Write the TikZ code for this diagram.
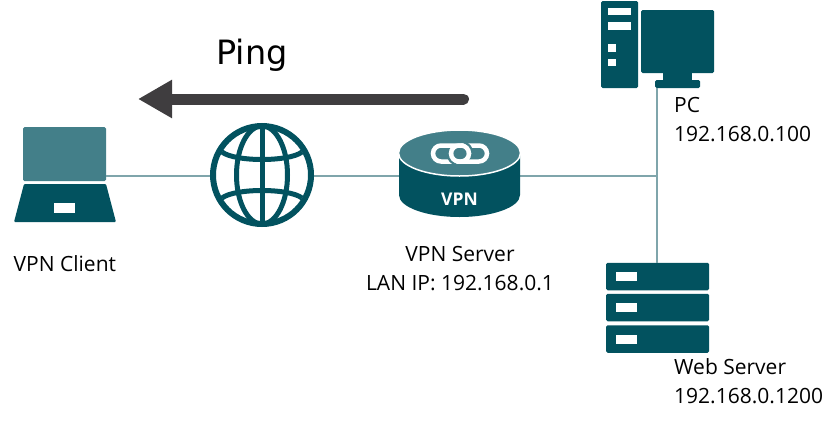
\documentclass[tikz,border=0pt]{standalone}
\usepackage{fontspec}
\setmainfont{Open Sans}
\newfontfamily\pingfont{DejaVu Sans}
\usetikzlibrary{arrows.meta}
\definecolor{tealdark}{HTML}{02525F}
\definecolor{teallight}{HTML}{437F89}
\definecolor{tealline}{HTML}{7FA5AB}
\definecolor{pingcol}{HTML}{3F3D3F}
\tikzset{
  block/.style={fill=tealdark, inner sep=0pt, rounded corners=1.5pt, minimum width=#1},
  hole/.style={fill=white, inner sep=0pt},
  link/.style={draw=tealline, line width=1.6pt},
  ring/.style={white, line width=4.5pt},
  gap/.style={teallight, line width=8.5pt},
  label/.style={inner sep=0pt, font=\fontsize{21}{29}\selectfont, align=left, anchor=base west},
}
\begin{document}
\begin{tikzpicture}[x=1pt,y=-1pt]
\useasboundingbox (0,0) rectangle (837,423);
% laptop
\node[block=83pt, fill=teallight, minimum height=54pt] (screen) at (64.5,154) {};
\fill[tealdark, rounded corners=1pt] (24,184) -- (106,184) -- (116,222) -- (14,222) -- cycle;
\node[hole, minimum width=21pt, minimum height=10pt] at (64.5,208) {};
% pc
\node[block=37pt, minimum height=87pt] (tower) at (619.5,44.5) {};
\foreach \i/\ypos in {1/11.5,2/26} \node[hole, minimum width=23pt, minimum height=7.5pt] (bar\i) at (619.5,\ypos) {};
\foreach \i/\ypos in {1/48,2/62.5} \node[hole, minimum width=8pt, minimum height=7.5pt] (dot\i) at (612,\ypos) {};
\node[block=73pt, minimum height=63pt] (monitor) at (677.5,41.5) {};
\node[fill=tealdark, inner sep=0pt, minimum width=29pt, minimum height=8pt] (neck) at (677.5,76) {};
\node[block=45pt, minimum height=8pt] (stand) at (677.5,84) {};
% web server
\foreach \i/\ypos in {1/276.5,2/307.5,3/339} {
  \node[block=103pt, minimum height=27.5pt] (rack\i) at (657.5,\ypos) {};
  \node[hole, minimum width=21pt, minimum height=9pt] at (626.5,\ypos) {};
}
% connectors
\coordinate (vpn) at (459.5,176);
\coordinate (lan) at (657,176);
\node[circle, minimum size=104pt, inner sep=0pt] (globe) at (262,175) {};
\draw[link] (screen.east |- lan) -- (globe.west |- lan);
\draw[link] (globe.east |- lan) -- (vpn);
\draw[link] (vpn) -- (lan);
\draw[link] (stand.south -| lan) -- (rack1.north -| lan);
% globe
\draw[tealdark, line width=6pt] (globe.center) circle [radius=49];
\draw[tealdark, line width=5pt] (globe.north) -- (globe.south);
\draw[tealdark, line width=5pt] (globe.center) ellipse [x radius=25.5, y radius=49];
\draw[tealdark, line width=5pt] (222,152) .. controls (235,162) and (289,162) .. (302,152);
\draw[tealdark, line width=5pt] (222,198) .. controls (235,188) and (289,188) .. (302,198);
% vpn cylinder
\fill[tealdark] (399,153) -- (399,195) arc [start angle=180, end angle=0, x radius=60.5, y radius=22] -- (520,153) -- cycle;
\fill[teallight, draw=white, line width=1.5pt] (459.5,153) ellipse [x radius=61, y radius=23];
\draw[ring, rounded corners=8pt] (451,145.5) rectangle (487,161.5);
\draw[ring, rounded corners=8pt] (433,145.5) rectangle (469,161.5);
\draw[gap] (451,154) .. controls (451,158) and (454,161) .. (457,161.5);
\draw[ring] (451,153) .. controls (451,158) and (454.5,161.5) .. (459,161.5);
\draw[gap] (469,153) .. controls (469,149) and (466,146) .. (463,145.5);
\draw[ring] (469,154) .. controls (469,149) and (465.5,145.5) .. (461,145.5);
\node[inner sep=0pt, text=white, font=\fontsize{17.5}{17.5}\selectfont\bfseries] (vpntext) at (459.5,199) {VPN};
% ping arrow
\coordinate (pingstart) at (463.5,99);
\coordinate (pingend) at (138,99);
\draw[pingcol, line width=11pt, line cap=round, -{Triangle[length=34pt,width=36pt]}] (pingstart) -- (pingend);
\node[inner sep=0pt, anchor=base west, font=\pingfont\fontsize{33.5}{33.5}\selectfont] (ping) at (216,64) {Ping};
% labels
\node[label] (clientlabel) at (13.5,271) {VPN Client};
\node[label, align=center, anchor=base] (serverlabel) at (460,290) {VPN Server\\LAN IP: 192.168.0.1};
\node[label] (pclabel) at (674,141) {PC\\192.168.0.100};
\node[label] (weblabel) at (674,403) {Web Server\\192.168.0.1200};
\end{tikzpicture}
\end{document}
